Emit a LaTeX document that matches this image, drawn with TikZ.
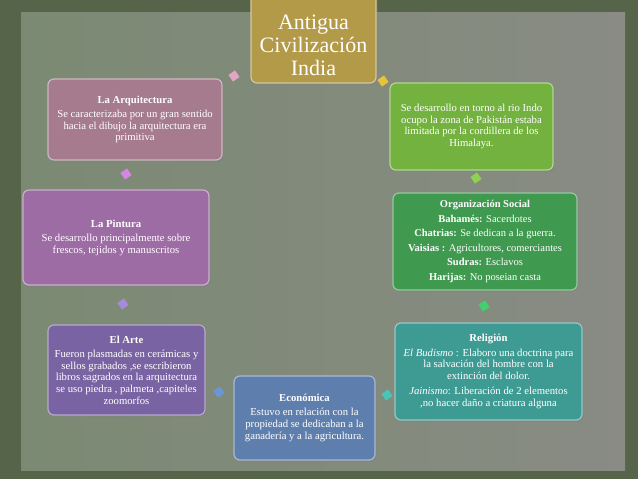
\documentclass[tikz,border=0pt]{standalone}
\usepackage{fontspec}
\setmainfont{Liberation Serif}
\usetikzlibrary{shadows}
\definecolor{bgout}{HTML}{56654A}
\definecolor{bginL}{HTML}{7B8A73}
\definecolor{bginR}{HTML}{898B84}
\definecolor{cgold}{HTML}{B39A48}
\definecolor{cpink}{HTML}{A67B8D}
\definecolor{cgreenA}{HTML}{73B23F}
\definecolor{cviolet}{HTML}{9E6CA5}
\definecolor{cgreenB}{HTML}{3F9A50}
\definecolor{cpurple}{HTML}{7A63A3}
\definecolor{cteal}{HTML}{3E9B94}
\definecolor{cblue}{HTML}{5E7FAE}
\definecolor{dpink}{HTML}{E2A6C4}
\definecolor{dyellow}{HTML}{E8C23A}
\definecolor{dlgreen}{HTML}{8FD24F}
\definecolor{dviolet}{HTML}{D487E0}
\definecolor{dpurple}{HTML}{A88ADA}
\definecolor{dgreen}{HTML}{42D06E}
\definecolor{dteal}{HTML}{4CC3B8}
\definecolor{dblue}{HTML}{6A96D8}
\begin{document}
\begin{tikzpicture}[x=1pt,y=-1pt,
  box/.style={rounded corners=6pt, draw=#1!55!white, line width=1.2pt, fill=#1,
    drop shadow={shadow xshift=1.5pt,shadow yshift=-2pt,opacity=0.35}},
  boxtext/.style={text=white, align=center, inner sep=0pt,
    font=\fontsize{10.7}{11.7}\selectfont},
  dia/.style={fill=#1, draw=none, minimum size=8pt, inner sep=0pt, rotate=35}]
\useasboundingbox (0,0) rectangle (638,479);
% background
\fill[bgout] (0,0) rectangle (638,479);
\shade[left color=bginL, right color=bginR] (21,12) rectangle (625,470);
% top box
\node[box=cgold, minimum width=125pt, minimum height=95pt] (topbox) at (313.5,35.5) {};
\node[boxtext, font=\fontsize{22}{23}\selectfont] (toptext) at (313.5,45) {Antigua\\Civilización\\India};
% Arquitectura
\node[box=cpink, boxtext, minimum width=174pt, minimum height=81pt] (arq) at (135,119.5)
  {\textbf{La Arquitectura}\\[2.5pt]Se caracterizaba por un gran sentido\\hacia el dibujo la arquitectura era\\primitiva};
% green top right
\node[box=cgreenA, boxtext, minimum width=163pt, minimum height=87pt] (indo) at (471.5,126.5)
  {Se desarrollo en torno al rio Indo\\ocupo la zona de Pakistán  estaba\\limitada por la cordillera de los\\Himalaya.};
% Pintura
\node[box=cviolet, boxtext, minimum width=186pt, minimum height=95pt] (pin) at (116,237.5)
  {\textbf{La Pintura}\\[2.5pt]Se desarrollo principalmente sobre\\frescos, tejidos y manuscritos};
% Organizacion social
\node[box=cgreenB, boxtext, minimum width=184pt, minimum height=97pt,
  font=\fontsize{10.5}{14.6}\selectfont] (org) at (485,241.5)
  {\textbf{Organización Social}\\\textbf{Bahamés:} Sacerdotes\\\textbf{Chatrias:} Se dedican a la guerra.\\\textbf{Vaisias :} Agricultores, comerciantes\\\textbf{Sudras:} Esclavos\\\textbf{Harijas:} No poseian casta};
% El Arte
\node[box=cpurple, boxtext, minimum width=157pt, minimum height=90pt] (arte) at (126.5,370)
  {\textbf{El Arte}\\[2.5pt]Fueron plasmadas en cerámicas y\\sellos grabados ,se escribieron\\libros sagrados  en la arquitectura\\se uso piedra , palmeta ,capiteles\\zoomorfos};
% Religion
\node[box=cteal, boxtext, minimum width=187pt, minimum height=97pt] (rel) at (488.5,371.5)
  {\textbf{Religión}\\[2.5pt]\textit{El Budismo} : Elaboro una doctrina para\\la salvación del hombre con la\\extinción del dolor.\\[3.5pt]\textit{Jainismo}: Liberación de 2 elementos\\,no hacer daño a criatura alguna};
% Economica
\node[box=cblue, boxtext, minimum width=141pt, minimum height=84pt] (eco) at (304.5,418)
  {\textbf{Económica}\\[2.5pt]Estuvo en relación con la\\propiedad se dedicaban a la\\ganadería y a la agricultura.};
% connectors (diamonds)
\node[dia=dpink] (d1) at (234,76) {};
\node[dia=dyellow] (d2) at (383,81) {};
\node[dia=dlgreen] (d3) at (476,178) {};
\node[dia=dgreen] (d4) at (484,306) {};
\node[dia=dteal] (d5) at (387,395) {};
\node[dia=dblue] (d6) at (219,392) {};
\node[dia=dpurple] (d7) at (123,304) {};
\node[dia=dviolet] (d8) at (126,174) {};
\end{tikzpicture}
\end{document}
